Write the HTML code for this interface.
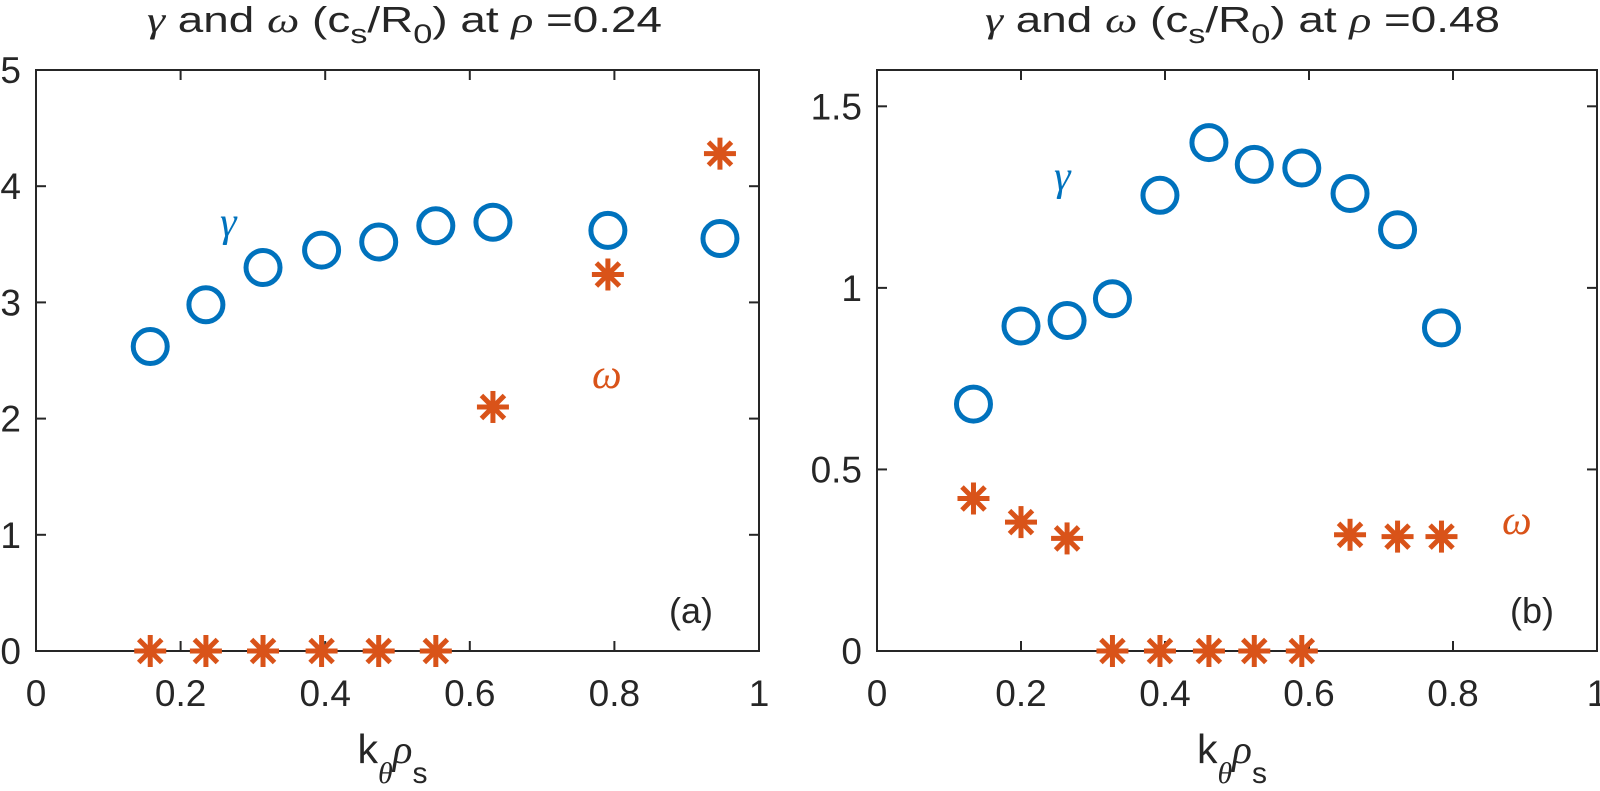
<!DOCTYPE html>
<html><head><meta charset="utf-8"><style>
html,body{margin:0;padding:0;background:#fff;}
svg text{font-family:"Liberation Sans",sans-serif;fill:#262626;}
.g{font-family:"Liberation Serif","DejaVu Serif",serif;font-style:italic;}
</style></head><body>
<svg id="s" width="1600" height="786" xmlns="http://www.w3.org/2000/svg"></svg>
<script>
const s=document.getElementById('s');let h='';
const B='#0072BD',O='#D95319';
function axes(L,R,T,Bt,ymax,yt,ylab){
  h+=`<rect x="${L}" y="${T}" width="${R-L}" height="${Bt-T}" fill="none" stroke="#262626" stroke-width="2"/>`;
  const W=R-L;
  for(let i=0;i<=5;i++){const x=L+W*i/5;
    h+=`<line x1="${x}" y1="${Bt}" x2="${x}" y2="${Bt-10}" stroke="#262626" stroke-width="2"/><line x1="${x}" y1="${T}" x2="${x}" y2="${T+10}" stroke="#262626" stroke-width="2"/>`;
    h+=`<text x="${x}" y="${Bt+55}" font-size="37" text-anchor="middle">${i==0?'0':i==5?'1':(i/5).toFixed(1)}</text>`;}
  yt.forEach((v,k)=>{const y=Bt-(Bt-T)*v/ymax;
    h+=`<line x1="${L}" y1="${y}" x2="${L+10}" y2="${y}" stroke="#262626" stroke-width="2"/><line x1="${R}" y1="${y}" x2="${R-10}" y2="${y}" stroke="#262626" stroke-width="2"/>`;
    h+=`<text x="${L-15}" y="${y+13}" font-size="37" text-anchor="end">${ylab[k]}</text>`;});
  const xl=(L+R)/2-40;
  h+=`<text x="${xl}" y="763" font-size="41">k<tspan class="g" font-size="30" dy="20">θ</tspan><tspan class="g" dy="-20">ρ</tspan><tspan font-size="30" dy="20">s</tspan></text>`;
}
function pts(L,R,T,Bt,ymax,xs,g,w){
  const X=x=>L+(R-L)*x,Y=y=>Bt-(Bt-T)*y/ymax;
  xs.forEach((x,i)=>{if(g[i]!=null)h+=`<circle cx="${X(x)}" cy="${Y(g[i])}" r="17" fill="none" stroke="${B}" stroke-width="5"/>`;});
  xs.forEach((x,i)=>{if(w[i]==null)return;const cx=X(x),cy=Y(w[i]),a=16,d=11.5;
    h+=`<g stroke="${O}" stroke-width="5"><line x1="${cx-a}" y1="${cy}" x2="${cx+a}" y2="${cy}"/><line x1="${cx}" y1="${cy-a}" x2="${cx}" y2="${cy+a}"/><line x1="${cx-d}" y1="${cy-d}" x2="${cx+d}" y2="${cy+d}"/><line x1="${cx-d}" y1="${cy+d}" x2="${cx+d}" y2="${cy-d}"/></g>`;});
}
function title(x0,v){h+=`<text x="${x0}" y="32" font-size="36" textLength="515" lengthAdjust="spacingAndGlyphs"><tspan class="g">γ</tspan> and <tspan class="g">ω</tspan> (c<tspan font-size="27" dy="11">s</tspan><tspan dy="-11">/R</tspan><tspan font-size="27" dy="11">0</tspan><tspan dy="-11">) at </tspan><tspan class="g">ρ</tspan> =${v}</text>`;}
axes(36,759,70,651,5,[0,1,2,3,4,5],['0','1','2','3','4','5']);
pts(36,759,70,651,5,[0.158,0.235,0.314,0.395,0.474,0.553,0.632,0.791,0.946],
 [2.62,2.98,3.30,3.45,3.52,3.66,3.69,3.62,3.55],[0,0,0,0,0,0,2.1,3.24,4.28]);
title(147,'0.24');
axes(877,1597,70,651,1.6,[0,0.5,1,1.5],['0','0.5','1','1.5']);
pts(877,1597,70,651,1.6,[0.134,0.2,0.264,0.327,0.393,0.461,0.524,0.59,0.657,0.723,0.784],
 [0.68,0.895,0.91,0.97,1.255,1.40,1.34,1.33,1.26,1.16,0.89],[0.42,0.355,0.31,0,0,0,0,0,0.32,0.315,0.315]);
title(985,'0.48');
h+=`<text class="g" x="220" y="236" font-size="42" style="fill:${B}">γ</text>`;
h+=`<text class="g" x="592" y="388" font-size="42" style="fill:${O}">ω</text>`;
h+=`<text class="g" x="1054" y="190" font-size="42" style="fill:${B}">γ</text>`;
h+=`<text class="g" x="1502" y="534" font-size="42" style="fill:${O}">ω</text>`;
h+=`<text x="691" y="623" font-size="36" text-anchor="middle">(a)</text>`;
h+=`<text x="1532" y="623" font-size="36" text-anchor="middle">(b)</text>`;
s.innerHTML=h;
</script>
</body></html>
